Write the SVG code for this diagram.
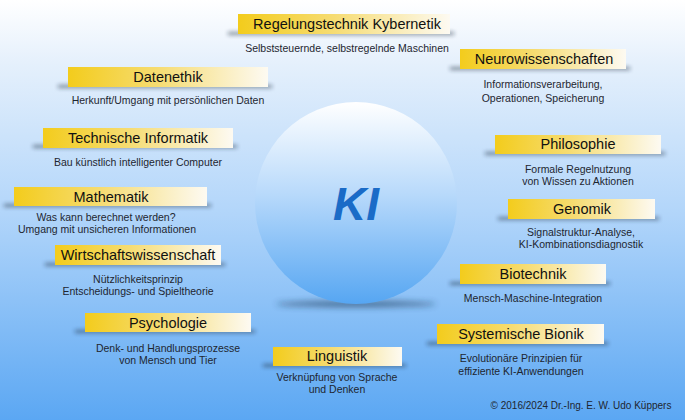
<svg xmlns="http://www.w3.org/2000/svg" width="685" height="420" viewBox="0 0 685 420">
<defs>
<linearGradient id="bg" x1="0" y1="0" x2="0" y2="1">
<stop offset="0" stop-color="#ffffff"/>
<stop offset="0.15" stop-color="#e5f0fc"/>
<stop offset="0.5" stop-color="#b3d6fa"/>
<stop offset="1" stop-color="#5ba7f3"/>
</linearGradient>
<linearGradient id="ball" x1="0" y1="0" x2="0" y2="1">
<stop offset="0" stop-color="#ffffff"/>
<stop offset="0.45" stop-color="#b9dafb"/>
<stop offset="1" stop-color="#56a6f2"/>
</linearGradient>
<linearGradient id="box" x1="0" y1="0" x2="1" y2="0">
<stop offset="0" stop-color="#f3cc1c"/>
<stop offset="0.45" stop-color="#f6dc72"/>
<stop offset="1" stop-color="#fdfaf2"/>
</linearGradient>
<filter id="blur" x="-20%" y="-200%" width="140%" height="500%">
<feGaussianBlur stdDeviation="2"/>
</filter>
<filter id="blur2" x="-20%" y="-200%" width="140%" height="500%">
<feGaussianBlur stdDeviation="3"/>
</filter>
</defs>
<style>
.sh{fill:#1c2a3a;opacity:.55;filter:url(#blur)}
.bx{fill:url(#box)}
.h{font-family:"Liberation Sans",Arial,sans-serif;font-size:14.5px;fill:#111;text-anchor:middle}
.d{font-family:"Liberation Sans",Arial,sans-serif;font-size:10.5px;fill:#1e2630;text-anchor:middle}
</style>
<rect x="0" y="0" width="685" height="420" fill="url(#bg)"/>
<g id="center">
<ellipse cx="356" cy="304" rx="80" ry="3" fill="#17324f" opacity="0.6" filter="url(#blur2)"/>
<circle cx="356" cy="203" r="101" fill="url(#ball)"/>
<text x="356" y="220" font-family="Liberation Sans,Arial,sans-serif" font-size="46" font-weight="bold" font-style="italic" fill="#1a6bc7" text-anchor="middle">KI</text>
</g>
<g id="connectors"/>
<g id="regelungstechnik">
<rect class="sh" x="228" y="32" width="226" height="3"/>
<rect class="bx" x="238" y="14" width="212" height="20"/>
<text class="h" x="347" y="29">Regelungstechnik Kybernetik</text>
<text class="d" x="347" y="52">Selbststeuernde, selbstregelnde Maschinen</text>
</g>
<g id="neurowissenschaften">
<rect class="sh" x="450" y="67" width="180" height="3"/>
<rect class="bx" x="460" y="49" width="166" height="20"/>
<text class="h" x="544" y="64">Neurowissenschaften</text>
<text class="d" x="543" y="88">Informationsverarbeitung,</text>
<text class="d" x="543" y="102">Operationen, Speicherung</text>
</g>
<g id="datenethik">
<rect class="sh" x="58" y="85" width="214" height="3"/>
<rect class="bx" x="68" y="67" width="200" height="20"/>
<text class="h" x="168" y="82">Datenethik</text>
<text class="d" x="168" y="104">Herkunft/Umgang mit persönlichen Daten</text>
</g>
<g id="technische-informatik">
<rect class="sh" x="33" y="145" width="204" height="3"/>
<rect class="bx" x="43" y="128" width="190" height="20"/>
<text class="h" x="138" y="143">Technische Informatik</text>
<text class="d" x="138" y="166">Bau künstlich intelligenter Computer</text>
</g>
<g id="philosophie">
<rect class="sh" x="485" y="152" width="180" height="3"/>
<rect class="bx" x="495" y="135" width="166" height="19"/>
<text class="h" x="578" y="149">Philosophie</text>
<text class="d" x="578" y="173">Formale Regelnutzung</text>
<text class="d" x="578" y="185">von Wissen zu Aktionen</text>
</g>
<g id="mathematik">
<rect class="sh" x="4" y="204" width="207" height="3"/>
<rect class="bx" x="14" y="187" width="193" height="19"/>
<text class="h" x="111" y="202">Mathematik</text>
<text class="d" x="106" y="221">Was kann berechnet werden?</text>
<text class="d" x="107" y="233">Umgang mit unsicheren Informationen</text>
</g>
<g id="genomik">
<rect class="sh" x="498" y="217" width="161" height="3"/>
<rect class="bx" x="508" y="199" width="147" height="20"/>
<text class="h" x="582" y="214">Genomik</text>
<text class="d" x="581" y="236">Signalstruktur-Analyse,</text>
<text class="d" x="581" y="248">KI-Kombinationsdiagnostik</text>
</g>
<g id="wirtschaftswissenschaft">
<rect class="sh" x="45" y="263" width="180" height="3"/>
<rect class="bx" x="55" y="245" width="166" height="20"/>
<text class="h" x="138" y="260">Wirtschaftswissenschaft</text>
<text class="d" x="138" y="283">Nützlichkeitsprinzip</text>
<text class="d" x="138" y="295">Entscheidungs- und Spieltheorie</text>
</g>
<g id="biotechnik">
<rect class="sh" x="450" y="282" width="160" height="3"/>
<rect class="bx" x="460" y="264" width="146" height="20"/>
<text class="h" x="533" y="279">Biotechnik</text>
<text class="d" x="533" y="302">Mensch-Maschine-Integration</text>
</g>
<g id="psychologie">
<rect class="sh" x="75" y="330" width="180" height="3"/>
<rect class="bx" x="85" y="313" width="166" height="19"/>
<text class="h" x="168" y="328">Psychologie</text>
<text class="d" x="168" y="352">Denk- und Handlungsprozesse</text>
<text class="d" x="168" y="364">von Mensch und Tier</text>
</g>
<g id="systemische-bionik">
<rect class="sh" x="427" y="342" width="181" height="3"/>
<rect class="bx" x="437" y="324" width="167" height="20"/>
<text class="h" x="521" y="339">Systemische Bionik</text>
<text class="d" x="521" y="362">Evolutionäre Prinzipien für</text>
<text class="d" x="521" y="375">effiziente KI-Anwendungen</text>
</g>
<g id="linguistik">
<rect class="sh" x="263" y="364" width="143" height="3"/>
<rect class="bx" x="273" y="347" width="129" height="19"/>
<text class="h" x="337" y="361">Linguistik</text>
<text class="d" x="337" y="381">Verknüpfung von Sprache</text>
<text class="d" x="337" y="393">und Denken</text>
</g>
<g id="copyright">
<text class="d" x="581" y="409" style="font-size:10px">© 2016/2024 Dr.-Ing. E. W. Udo Küppers</text>
</g>
</svg>
